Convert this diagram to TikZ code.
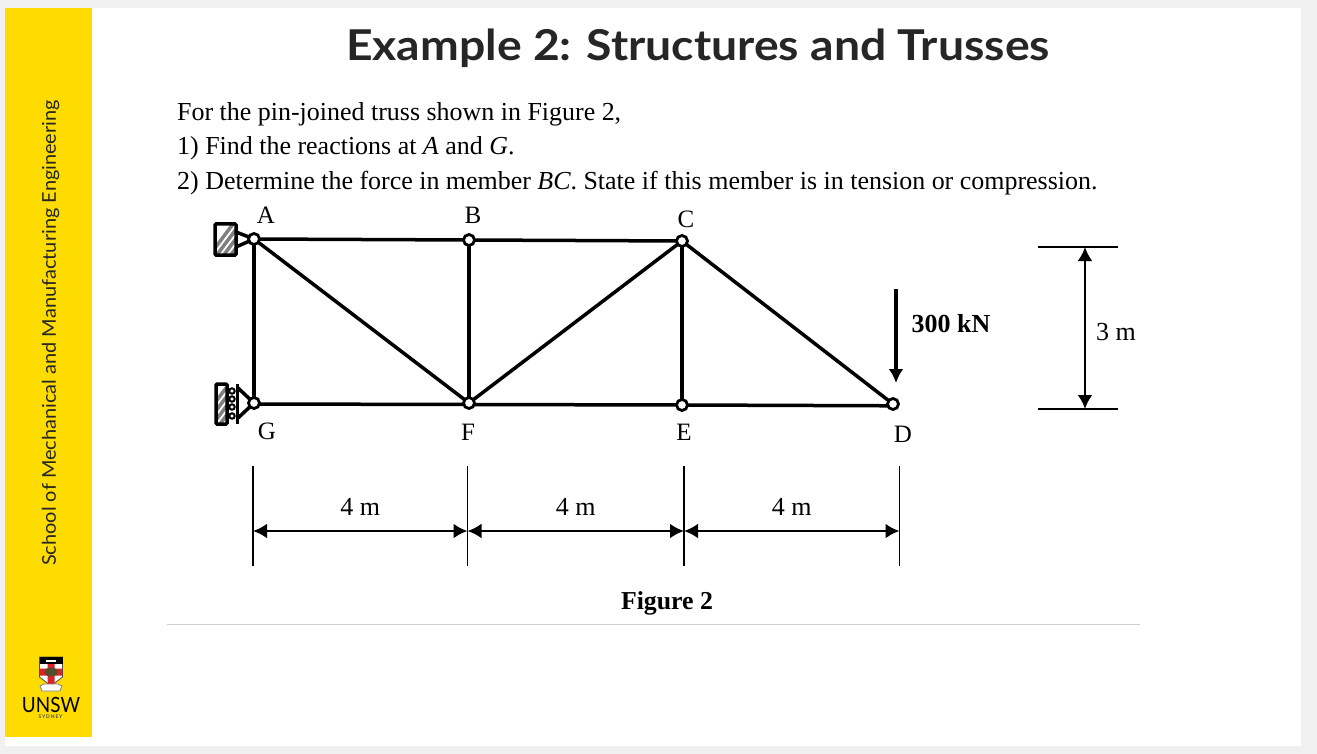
\documentclass[tikz,border=0pt]{standalone}
\usepackage{fontspec}
\setmainfont{Liberation Serif}
\newfontfamily\slidefont{Lato}
\newfontfamily\logofont{Lato}
\definecolor{unswyellow}{HTML}{FFDC00}
\definecolor{slidegrey}{HTML}{F0F0F0}
\definecolor{ruleline}{HTML}{CFCFCF}
\definecolor{crestred}{HTML}{D8232A}
\usetikzlibrary{arrows.meta}
\begin{document}
\begin{tikzpicture}[x=1pt,y=-1pt,>={Latex[length=14pt,width=15pt]},
    joint/.style={circle,draw,fill=white,line width=2.8pt,inner sep=0pt,minimum size=11pt},
    member/.style={line width=3.5pt},
    dim/.style={<->,line width=2.6pt},
    tick/.style={line width=1.4pt},
    letter/.style={font=\fontsize{25}{25}\selectfont,inner sep=0pt},
    body/.style={font=\fontsize{25.95}{26}\selectfont,inner sep=0pt,anchor=base west}]
    \useasboundingbox (0,0) rectangle (1317,754);
    \fill[slidegrey] (0,0) rectangle (1317,754);
    \fill[white] (5,8) rectangle (1301,746);
    \fill[unswyellow] (5,8) rectangle (92,737);

    % side band
    \node[rotate=90,inner sep=0pt,xscale=1.05,font=\slidefont\fontsize{19}{19}\selectfont,text=black!85] (school) at (50.5,333) {School of Mechanical and Manufacturing Engineering};
    \fill[white,draw=black!70,line width=.8pt] (39.5,657) -- (62.5,657) -- (62.5,677) -- (51,686) -- (39.5,677) -- cycle;
    \fill[black] (39.5,657) rectangle (62.5,664);
    \fill[white] (46,659.5) rectangle (56,661.5);
    \fill[crestred] (47.5,664) rectangle (54.5,684) (40,668.5) rectangle (62,675.5);
    \fill[black!55!olive] (51,672) ellipse (6.5pt and 4.5pt);
    \fill[white,draw=black!50,line width=.8pt] (40,686) -- (44,684) -- (58,684) -- (62,686) -- (60,691) -- (42,691) -- cycle;
    \node[inner sep=0pt,xscale=.9,font=\logofont\fontsize{21}{21}\selectfont] (unsw) at (51,705) {UNSW};
    \node[inner sep=0pt,font=\logofont\bfseries\fontsize{5}{5}\selectfont,text=black!70] (sydney) at (50.5,717) {S\,Y\,D\,N\,E\,Y};

    % heading and question
    \node[inner sep=0pt,xscale=1.09,font=\slidefont\bfseries\fontsize{42.5}{43}\selectfont,text=black!85] (title) at (698,48) {Example 2: Structures and Trusses};
    \node[body] (line1) at (177,120.5) {For the pin-joined truss shown in Figure 2,};
    \node[body] (line2) at (177,155) {1) Find the reactions at \textit{A} and \textit{G}.};
    \node[body] (line3) at (177,189.5) {2) Determine the force in member \textit{BC}. State if this member is in tension or compression.};

    % joints
    \coordinate (A) at (254,239);
    \coordinate (B) at (469,240);
    \coordinate (C) at (682,241);
    \coordinate (D) at (893,404);
    \coordinate (E) at (682,405);
    \coordinate (F) at (469,403);
    \coordinate (G) at (254,403);
    \coordinate (Fchord) at (469,404.5);
    \coordinate (Gchord) at (254,404);
    \coordinate (Dchord) at (893,405.8);

    % supports
    \begin{scope}
        \clip (214,224) rectangle (236,255);
        \fill[white] (214,224) rectangle (236,255);
        \foreach \i in {0,7,...,56} {\draw[gray,line width=3.5pt] (206+\i,260) -- (236+\i,220);}
    \end{scope}
    \draw[line width=3.5pt,rounded corners=1pt] (215,224) rectangle (236,255);
    \begin{scope}
        \clip (216,385) rectangle (228,423);
        \fill[white] (216,385) rectangle (228,423);
        \foreach \i in {0,7,...,56} {\draw[gray,line width=3.5pt] (196+\i,428) -- (226+\i,388);}
    \end{scope}
    \draw[line width=3.5pt,rounded corners=1pt] (216,384) rectangle (227,424);
    \draw[line width=3pt] (237,384) -- (237,424);
    \foreach \y in {391,399,407,416} {\draw[line width=2pt,fill=white] (232,\y) circle (2.7pt);}
    \draw[line width=3.5pt] (236,232) -- (A) -- (236,247);
    \draw[line width=3.5pt] (238,388) -- (G) -- (238,418);

    % members
    \draw[member] (A) -- (B);
    \draw[member] (B) -- (C);
    \draw[member] (C) -- (D);
    \draw[member] (Dchord) -- (E);
    \draw[member] (E) -- (Fchord);
    \draw[member] (Fchord) -- (Gchord);
    \draw[member] (G) -- (A);
    \draw[member] (A) -- (F);
    \draw[member] (B) -- (F);
    \draw[member] (F) -- (C);
    \draw[member] (C) -- (E);
    \foreach \p/\n in {A/nA,B/nB,C/nC,D/nD,E/nE,F/nF,G/nG} {\node[joint] (\n) at (\p) {};}

    \node[letter] (labA) at (266,215) {A};
    \node[letter] (labB) at (473,215) {B};
    \node[letter] (labC) at (686,219) {C};
    \node[letter] (labD) at (903,434) {D};
    \node[letter] (labE) at (684,432) {E};
    \node[letter] (labF) at (468,432) {F};
    \node[letter] (labG) at (267,431) {G};

    % load
    \coordinate (loadtop) at (896,289);
    \coordinate (loadend) at (896,383);
    \draw[->,line width=4pt] (loadtop) -- (loadend);
    \node[letter,font=\fontsize{26}{26}\selectfont\bfseries] (load) at (951,324) {300 kN};

    % dimensions
    \coordinate (d1) at (253,466); \coordinate (e1) at (253,566);
    \coordinate (d2) at (467.5,466); \coordinate (e2) at (467.5,566);
    \coordinate (d3) at (684,466); \coordinate (e3) at (684,566);
    \coordinate (d4) at (899.5,466); \coordinate (e4) at (899.5,566);
    \foreach \n in {1,2,3,4} {\draw[tick] (d\n) -- (e\n);}
    \coordinate (a1) at (253,531);
    \coordinate (a2) at (467.5,531);
    \coordinate (a3) at (684,531);
    \coordinate (a4) at (899.5,531);
    \draw[dim] (a1) -- node[letter,font=\fontsize{26}{26}\selectfont,above=14pt,midway] (m1) {4 m} (a2);
    \draw[dim] (a2) -- node[letter,font=\fontsize{26}{26}\selectfont,above=14pt,midway] (m2) {4 m} (a3);
    \draw[dim] (a3) -- node[letter,font=\fontsize{26}{26}\selectfont,above=14pt,midway] (m3) {4 m} (a4);
    \coordinate (t1) at (1038,247); \coordinate (u1) at (1118,247);
    \coordinate (t2) at (1038,409); \coordinate (u2) at (1118,409);
    \draw[tick] (t1) -- (u1);
    \draw[tick] (t2) -- (u2);
    \coordinate (v1) at (1085,247);
    \coordinate (v2) at (1085,409);
    \draw[dim] (v1) -- (v2);
    \node[letter,font=\fontsize{26}{26}\selectfont] (height) at (1116,332) {3 m};

    \node[letter,font=\fontsize{25.8}{26}\selectfont\bfseries] (figname) at (667,603) {Figure 2};
    \coordinate (r1) at (167,624);
    \coordinate (r2) at (1140,624);
    \draw[ruleline,line width=1pt] (r1) -- (r2);
\end{tikzpicture}
\end{document}
